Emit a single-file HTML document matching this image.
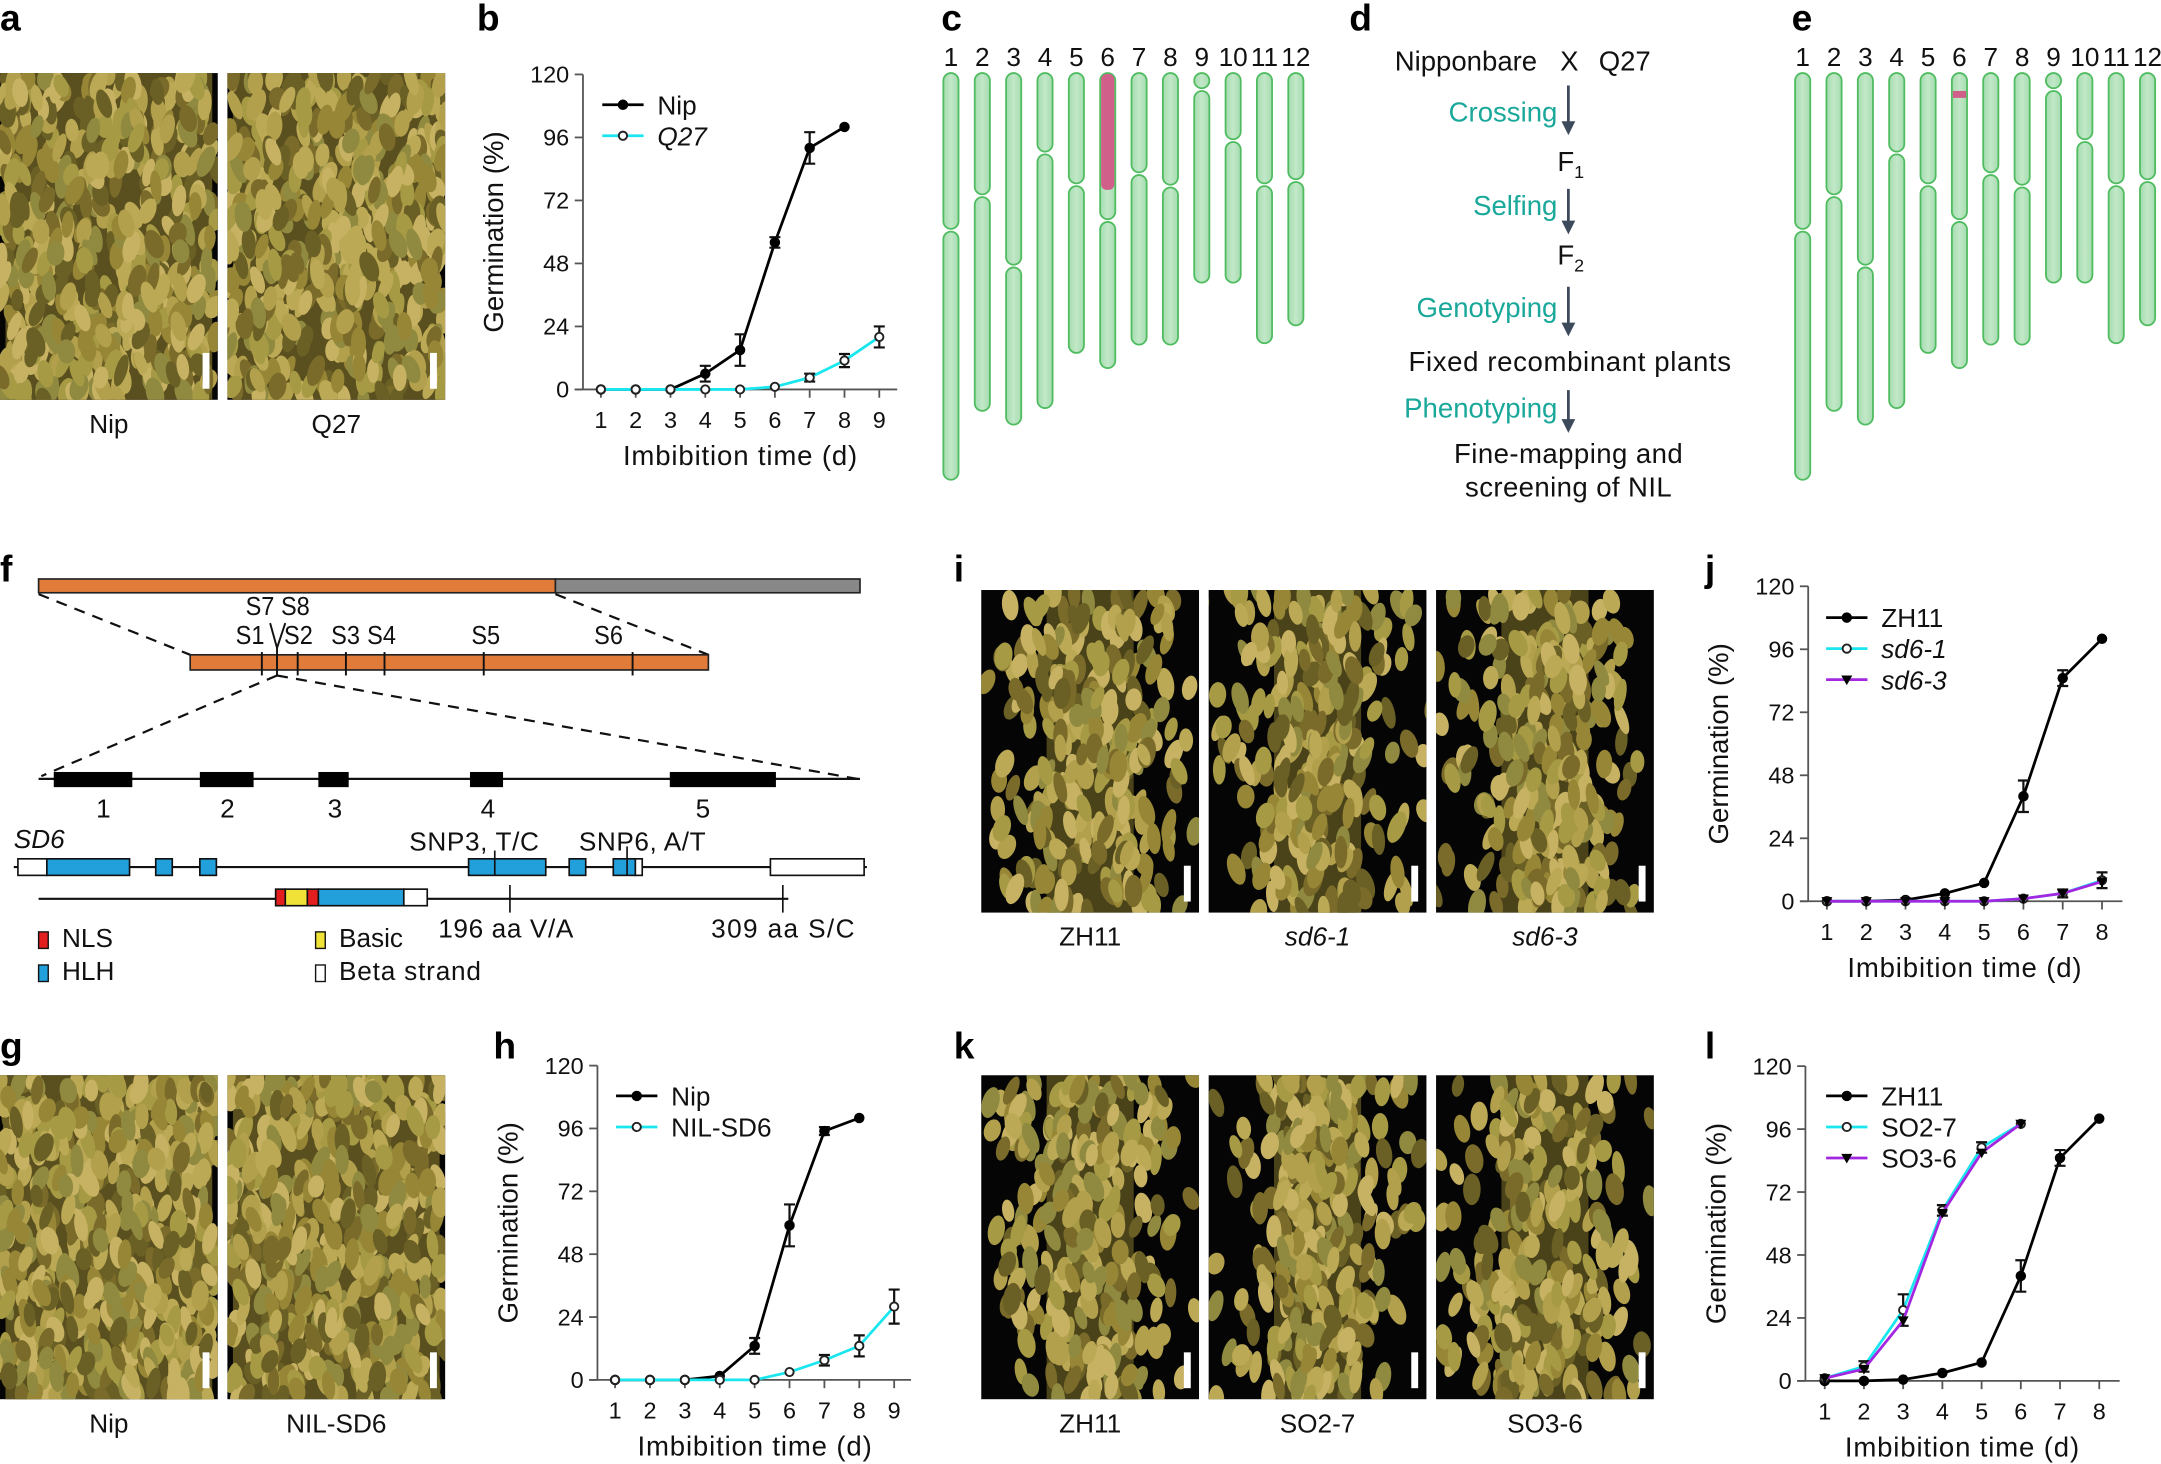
<!DOCTYPE html>
<html><head><meta charset="utf-8"><style>
html,body{margin:0;padding:0;background:#fff;}
svg{display:block;font-family:"Liberation Sans",sans-serif;}
</style></head><body>
<svg id="fig" width="2161" height="1464" viewBox="0 0 1568 1062" preserveAspectRatio="none" xmlns="http://www.w3.org/2000/svg">
<defs>
<linearGradient id="chrG" x1="0" x2="1" y1="0" y2="0"><stop offset="0" stop-color="#a5dcaf"/><stop offset="0.5" stop-color="#c2e8c8"/><stop offset="1" stop-color="#a5dcaf"/></linearGradient>
</defs>
<g id="letters" font-weight="bold" font-size="27" fill="#000">
<text x="0" y="22">a</text>
<text x="346" y="22">b</text>
<text x="683" y="22">c</text>
<text x="979" y="22">d</text>
<text x="1300" y="22">e</text>
<text x="0" y="422">f</text>
<text x="0" y="768">g</text>
<text x="358" y="768">h</text>
<text x="692" y="422">i</text>
<text x="1237" y="422">j</text>
<text x="692" y="768">k</text>
<text x="1237" y="768">l</text>
</g>
<g id="photos"></g>
<g id="chroms"></g>
<g id="panel-d" font-size="20" fill="#111">
<text x="1012" y="51">Nipponbare</text><text x="1132" y="51">X</text><text x="1160" y="51">Q27</text>
<text x="1130" y="88" text-anchor="end" fill="#19a89a">Crossing</text>
<text x="1130" y="124">F<tspan font-size="13" dy="5">1</tspan></text>
<text x="1130" y="156" text-anchor="end" fill="#19a89a">Selfing</text>
<text x="1130" y="192">F<tspan font-size="13" dy="5">2</tspan></text>
<text x="1130" y="230" text-anchor="end" fill="#19a89a">Genotyping</text>
<text x="1139" y="269" text-anchor="middle" textLength="234">Fixed recombinant plants</text>
<text x="1130" y="303" text-anchor="end" fill="#19a89a">Phenotyping</text>
<text x="1138" y="336" text-anchor="middle" textLength="166">Fine-mapping and</text>
<text x="1138" y="360" text-anchor="middle" textLength="150">screening of NIL</text>
<g stroke="#3d4a5c" stroke-width="2" fill="#3d4a5c">
<line x1="1138" y1="62" x2="1138" y2="92"/><path d="M1133,88 L1143,88 L1138,98Z" stroke="none"/>
<line x1="1138" y1="137" x2="1138" y2="162"/><path d="M1133,160 L1143,160 L1138,170Z" stroke="none"/>
<line x1="1138" y1="208" x2="1138" y2="236"/><path d="M1133,234 L1143,234 L1138,244Z" stroke="none"/>
<line x1="1138" y1="283" x2="1138" y2="306"/><path d="M1133,304 L1143,304 L1138,314Z" stroke="none"/>
</g>
</g>
<g id="panel-f">
<rect x="28" y="420" width="375" height="10" fill="#e07b39" stroke="#222" stroke-width="1.2"/>
<rect x="403" y="420" width="221" height="10" fill="#888" stroke="#222" stroke-width="1.2"/>
<g stroke="#111" stroke-width="1.6" stroke-dasharray="8,6" fill="none">
<line x1="28" y1="431" x2="138" y2="475"/><line x1="403" y1="431" x2="514" y2="475"/>
<line x1="201" y1="490" x2="30" y2="563"/><line x1="201" y1="490" x2="622" y2="565"/>
</g>
<rect x="138" y="475" width="376" height="11" fill="#e07b39" stroke="#222" stroke-width="1.2"/>
<g stroke="#111" stroke-width="1.4">
<line x1="190" y1="473" x2="190" y2="490"/><line x1="216" y1="473" x2="216" y2="490"/><line x1="251" y1="473" x2="251" y2="490"/><line x1="279" y1="473" x2="279" y2="490"/><line x1="351" y1="473" x2="351" y2="490"/><line x1="459" y1="473" x2="459" y2="490"/>
<line x1="201" y1="470" x2="201" y2="490"/><line x1="196" y1="452" x2="201" y2="470"/><line x1="207" y1="452" x2="201" y2="470"/>
</g>
<g font-size="19" fill="#111" transform="scale(0.9,1)">
<text x="198" y="446">S7 S8</text>
<text x="190" y="467">S1</text><text x="229" y="467">S2</text><text x="267" y="467">S3</text><text x="296" y="467">S4</text><text x="380" y="467">S5</text><text x="479" y="467">S6</text>
</g>
<line x1="28" y1="565" x2="624" y2="565" stroke="#111" stroke-width="1.6"/>
<g fill="#000"><rect x="39" y="560" width="57" height="11"/><rect x="145" y="560" width="39" height="11"/><rect x="231" y="560" width="22" height="11"/><rect x="341" y="560" width="24" height="11"/><rect x="486" y="560" width="77" height="11"/></g>
<g font-size="19" fill="#111" text-anchor="middle"><text x="75" y="593">1</text><text x="165" y="593">2</text><text x="243" y="593">3</text><text x="354" y="593">4</text><text x="510" y="593">5</text></g>
<text x="10" y="615" font-size="19" font-style="italic" fill="#111">SD6</text>
<text x="297" y="617" font-size="19" fill="#111" textLength="94">SNP3, T/C</text>
<text x="420" y="617" font-size="19" fill="#111" textLength="92">SNP6, A/T</text>
<line x1="10" y1="629" x2="629" y2="629" stroke="#111" stroke-width="1.5"/>
<g stroke="#111" stroke-width="1.2">
<rect x="13" y="623" width="21" height="12" fill="#fff"/><rect x="34" y="623" width="60" height="12" fill="#21a0dc"/>
<rect x="113" y="623" width="12" height="12" fill="#21a0dc"/><rect x="145" y="623" width="12" height="12" fill="#21a0dc"/>
<rect x="340" y="623" width="56" height="12" fill="#21a0dc"/><rect x="413" y="623" width="12" height="12" fill="#21a0dc"/>
<rect x="445" y="623" width="16" height="12" fill="#21a0dc"/><rect x="461" y="623" width="5" height="12" fill="#fff"/>
<rect x="559" y="623" width="68" height="12" fill="#fff"/>
<line x1="359" y1="617" x2="359" y2="635"/><line x1="455" y1="614" x2="455" y2="635"/>
</g>
<line x1="28" y1="652" x2="572" y2="652" stroke="#111" stroke-width="1.5"/>
<g stroke="#111" stroke-width="1.2">
<rect x="200" y="645" width="7" height="12" fill="#e21e1e"/><rect x="207" y="645" width="16" height="12" fill="#f0e236"/><rect x="223" y="645" width="8" height="12" fill="#e21e1e"/><rect x="231" y="645" width="62" height="12" fill="#21a0dc"/><rect x="293" y="645" width="17" height="12" fill="#fff"/>
<line x1="370" y1="642" x2="370" y2="662"/><line x1="568" y1="642" x2="568" y2="662"/>
</g>
<g font-size="19" fill="#111"><text x="318" y="680" textLength="98">196 aa V/A</text><text x="516" y="680" textLength="104">309 aa S/C</text>
<text x="45" y="687">NLS</text><text x="45" y="711">HLH</text><text x="246" y="687">Basic</text><text x="246" y="711" textLength="103">Beta strand</text></g>
<g stroke="#111" stroke-width="1"><rect x="28" y="676" width="7" height="12" fill="#e21e1e"/><rect x="28" y="700" width="7" height="12" fill="#21a0dc"/><rect x="229" y="676" width="7" height="12" fill="#f0e236"/><rect x="229" y="700" width="7" height="12" fill="#fff"/></g>
</g>
<g id="charts"></g>
</svg>
<script>
// ---------- chart data ----------
var daysB = [1,2,3,4,5,6,7,8,9];
var bNip = [0,0,0,6,15,56,92,100];
var bNipErr = [0,0,0,3,6,2,6,0];
var bQ27 = [0,0,0,0,0,1,4.5,11,20];
var bQ27Err = [0,0,0,0,0,0,1.5,2.5,4];
var daysH = [1,2,3,4,5,6,7,8,9];
var hNip = [0,0,0,1.5,13,59,95,100];
var hNipErr = [0,0,0,0,3,8,1.5,0];
var hNIL = [0,0,0,0,0,3,7.5,13,28];
var hNILErr = [0,0,0,0,0,0,2,4,6.5];
var daysJ = [1,2,3,4,5,6,7,8];
var jZH11 = [0,0,0.5,3,7,40,85,100];
var jZH11Err = [0,0,0,0,0,6,3,0];
var jSd61 = [0,0,0,0,0,1,3,8];
var jSd63 = [0,0,0,0,0,1,3,7.5];
var jSdErr = [0,0,0,0,0,0,1.5,3];
var lZH11 = [0,0,0.5,3,7,40,85,100];
var lZH11Err = [0,0,0,0,0,6,3,0];
var lSO27 = [1,5.5,27,65,89,98];
var lSO36 = [1,4.5,23,64,87,98];
var lSOErr = [0,2,6,2,2,0];
var yTicks = [0,24,48,72,96,120];

var NS = "http://www.w3.org/2000/svg";
function el(tag, attrs, parent){ var e=document.createElementNS(NS,tag); for(var k in attrs) e.setAttribute(k,attrs[k]); if(parent) parent.appendChild(e); return e; }

function chart(cfg){
  var g = el("g",{},document.getElementById("charts"));
  
  
  var n = cfg.days.length;
  function X(d){ return cfg.x1 + (d-1)*(cfg.xn-cfg.x1)/(n-1); }
  function Y(v){ return cfg.y0 - v*(cfg.y0-cfg.y120)/120; }
  el("line",{x1:cfg.ax,y1:cfg.y120,x2:cfg.ax,y2:cfg.y0,stroke:"#555","stroke-width":1.3},g);
  el("line",{x1:cfg.ax-6,y1:cfg.y0,x2:cfg.xend,y2:cfg.y0,stroke:"#555","stroke-width":1.3},g);
  yTicks.forEach(function(t){
    el("line",{x1:cfg.ax-6,y1:Y(t),x2:cfg.ax,y2:Y(t),stroke:"#555","stroke-width":1.3},g);
    var tx=el("text",{x:cfg.ax-10,y:Y(t)+6,"font-size":17,"text-anchor":"end",fill:"#111"},g); tx.textContent=t;
    
    
  });
  cfg.days.forEach(function(d){
    el("line",{x1:X(d),y1:cfg.y0,x2:X(d),y2:cfg.y0+6,stroke:"#555","stroke-width":1.3},g);
    var tx=el("text",{x:X(d),y:cfg.y0+28,"font-size":17,"text-anchor":"middle",fill:"#111"},g); tx.textContent=d;
    
    
  });
  var xt=el("text",{x:(cfg.x1+cfg.xn)/2,y:cfg.y0+55,"font-size":20,"text-anchor":"middle",fill:"#111",textLength:170},g); xt.textContent="Imbibition time (d)";
  
  
  var yc=(cfg.y0+cfg.y120)/2;
  var yt=el("text",{x:cfg.ax-58,y:yc,"font-size":20,"text-anchor":"middle",fill:"#111",textLength:146,transform:"rotate(-90 "+(cfg.ax-58)+" "+yc+")"},g); yt.textContent="Germination (%)";
  
  
  cfg.series.forEach(function(s, si){
    var sg=el("g",{},g);
    
    
    var pts=s.vals.map(function(v,i){return X(cfg.days[i])+","+Y(v);}).join(" ");
    el("polyline",{points:pts,fill:"none",stroke:s.color,"stroke-width":2},sg);
    s.vals.forEach(function(v,i){
      var e=s.err?s.err[i]:0, x=X(cfg.days[i]);
      if(e>0){
        el("path",{d:"M"+x+","+Y(v-e)+"V"+Y(v+e)+"M"+(x-4)+","+Y(v-e)+"h8M"+(x-4)+","+Y(v+e)+"h8",stroke:"#111","stroke-width":1.6,fill:"none"},sg);
      }
      marker(sg,s.mk,x,Y(v));
    });
    var ly=cfg.ly+si*22.5;
    el("line",{x1:cfg.lx,y1:ly,x2:cfg.lx+30,y2:ly,stroke:s.color,"stroke-width":2},sg);
    marker(sg,s.mk,cfg.lx+15,ly);
    var lt=el("text",{x:cfg.lx+40,y:ly+7,"font-size":19,fill:"#111"},sg); lt.textContent=s.label;
    if(s.it) lt.setAttribute("font-style","italic");
    
    
  });
}
function marker(g,mk,x,y){
  if(mk==="dot") el("circle",{cx:x,cy:y,r:3.8,fill:"#000"},g);
  else if(mk==="open") el("circle",{cx:x,cy:y,r:3,fill:"#fff",stroke:"#222","stroke-width":1.4},g);
  else el("path",{d:"M"+(x-4)+","+(y-3)+"h8l-4,7z",fill:"#000"},g);
}
var CY="#19e6ee", PU="#a326e0";
chart({name:"chart-b",days:daysB,ax:423,x1:436,xn:638,xend:651,y0:282.5,y120:54,lx:437,ly:76,series:[
 {label:"Nip",vals:bNip,err:bNipErr,color:"#000",mk:"dot"},
 {label:"Q27",vals:bQ27,err:bQ27Err,color:CY,mk:"open",it:true}]});
chart({name:"chart-h",days:daysH,ax:433.5,x1:446.3,xn:648.8,xend:661,y0:1001,y120:773,lx:447,ly:795,series:[
 {label:"Nip",vals:hNip,err:hNipErr,color:"#000",mk:"dot"},
 {label:"NIL-SD6",vals:hNIL,err:hNILErr,color:CY,mk:"open"}]});
chart({name:"chart-j",days:daysJ,ax:1312,x1:1325.6,xn:1525.2,xend:1540,y0:653.8,y120:425.3,lx:1325,ly:448,series:[
 {label:"ZH11",vals:jZH11,err:jZH11Err,color:"#000",mk:"dot"},
 {label:"sd6-1",vals:jSd61,err:jSdErr,color:CY,mk:"open",it:true},
 {label:"sd6-3",vals:jSd63,err:null,color:PU,mk:"tri",it:true}]});
chart({name:"chart-l",days:daysJ,ax:1310,x1:1324,xn:1523.2,xend:1538,y0:1001.7,y120:773.4,lx:1325,ly:795,series:[
 {label:"ZH11",vals:lZH11,err:lZH11Err,color:"#000",mk:"dot"},
 {label:"SO2-7",vals:lSO27,err:lSOErr,color:CY,mk:"open"},
 {label:"SO3-6",vals:lSO36,err:null,color:PU,mk:"tri"}]});

// ---------- chromosomes ----------
var chrTop=53;
var chrCen=[167,142,193,111,134,160,126,135,65,102,134,131];
var chrBot=[348,298,308,296,256,267,250,250,205,205,249,236];
function chromPanel(name,x0,red){
  var g=el("g",{},document.getElementById("chroms"));
  
  
  for(var i=0;i<12;i++){
    var cx=x0+i*22.75, w=11;
    var t=el("text",{x:cx,y:48,"font-size":19,"text-anchor":"middle",fill:"#111"},g); t.textContent=i+1;
    var c=chrCen[i];
    el("rect",{x:cx-w/2,y:chrTop,width:w,height:c-chrTop-1,rx:5.5,fill:"url(#chrG)",stroke:"#4fbc60","stroke-width":1.3},g);
    el("rect",{x:cx-w/2,y:c+1,width:w,height:chrBot[i]-c-1,rx:5.5,fill:"url(#chrG)",stroke:"#4fbc60","stroke-width":1.3},g);
    if(i===5){
      if(red==="big") el("rect",{x:cx-w/2+0.7,y:chrTop+0.7,width:w-1.4,height:84,rx:4,fill:"#d0608a"},g);
      else el("rect",{x:cx-w/2+0.7,y:66,width:w-1.4,height:5,fill:"#d0608a"},g);
    }
  }
}
chromPanel("chromosome-map-c",690,"big");
chromPanel("chromosome-map-e",1308,"small");

// ---------- photos (decorative texture) ----------
var seed=7; function rnd(){ seed=(seed*16807)%2147483647; return seed/2147483647; }
var cols=["#b3a04c","#978636","#c6b262","#7a6b2a","#a69a44","#bba955","#6a5f24","#8f8a40"];
function photo(name,x,y,w,h,band,label,it){
  var g=el("g",{},document.getElementById("photos"));
  
  
  el("rect",{x:x,y:y,width:w,height:h,fill:"#050505"},g);
  if(!band) el("rect",{x:x+4,y:y,width:w-8,height:h,fill:"#5a4f1e"},g);
  else el("rect",{x:x+w*0.3,y:y,width:w*0.4,height:h,fill:"#4a4219"},g);
  var cp=el("clipPath",{id:"cp"+name},g); el("rect",{x:x,y:y,width:w,height:h},cp);
  var gg=el("g",{"clip-path":"url(#cp"+name+")"},g);
  var N= band? 260:520;
  for(var k=0;k<N;k++){
    var px, py=y+rnd()*h;
    if(band){ px=x+w/2+(rnd()+rnd()+rnd()-1.5)*w*0.42; } else { px=x+rnd()*w; }
    var a=(rnd()-0.5)*50;
    el("ellipse",{cx:px,cy:py,rx:4+rnd()*2.5,ry:8+rnd()*4,fill:cols[Math.floor(rnd()*cols.length)],transform:"rotate("+a+" "+px+" "+py+")"},gg);
  }
  el("rect",{x:x+w-11,y:y+h-34,width:5,height:26,fill:"#fff"},g);
  var t=el("text",{x:x+w/2,y:y+h+24,"font-size":19,"text-anchor":"middle",fill:"#111"},g); t.textContent=label;
  if(it) t.setAttribute("font-style","italic");
}
photo("photo-nip-a",0,53,158,237,false,"Nip");
photo("photo-q27",165,53,158,237,false,"Q27");
photo("photo-nip-g",0,780,158,235,false,"Nip");
photo("photo-nil-sd6",165,780,158,235,false,"NIL-SD6");
photo("photo-zh11-i",712,428,158,234,true,"ZH11");
photo("photo-sd6-1",877,428,158,234,true,"sd6-1",true);
photo("photo-sd6-3",1042,428,158,234,true,"sd6-3",true);
photo("photo-zh11-k",712,780,158,235,true,"ZH11");
photo("photo-so2-7",877,780,158,235,true,"SO2-7");
photo("photo-so3-6",1042,780,158,235,true,"SO3-6");
</script>
</body></html>
